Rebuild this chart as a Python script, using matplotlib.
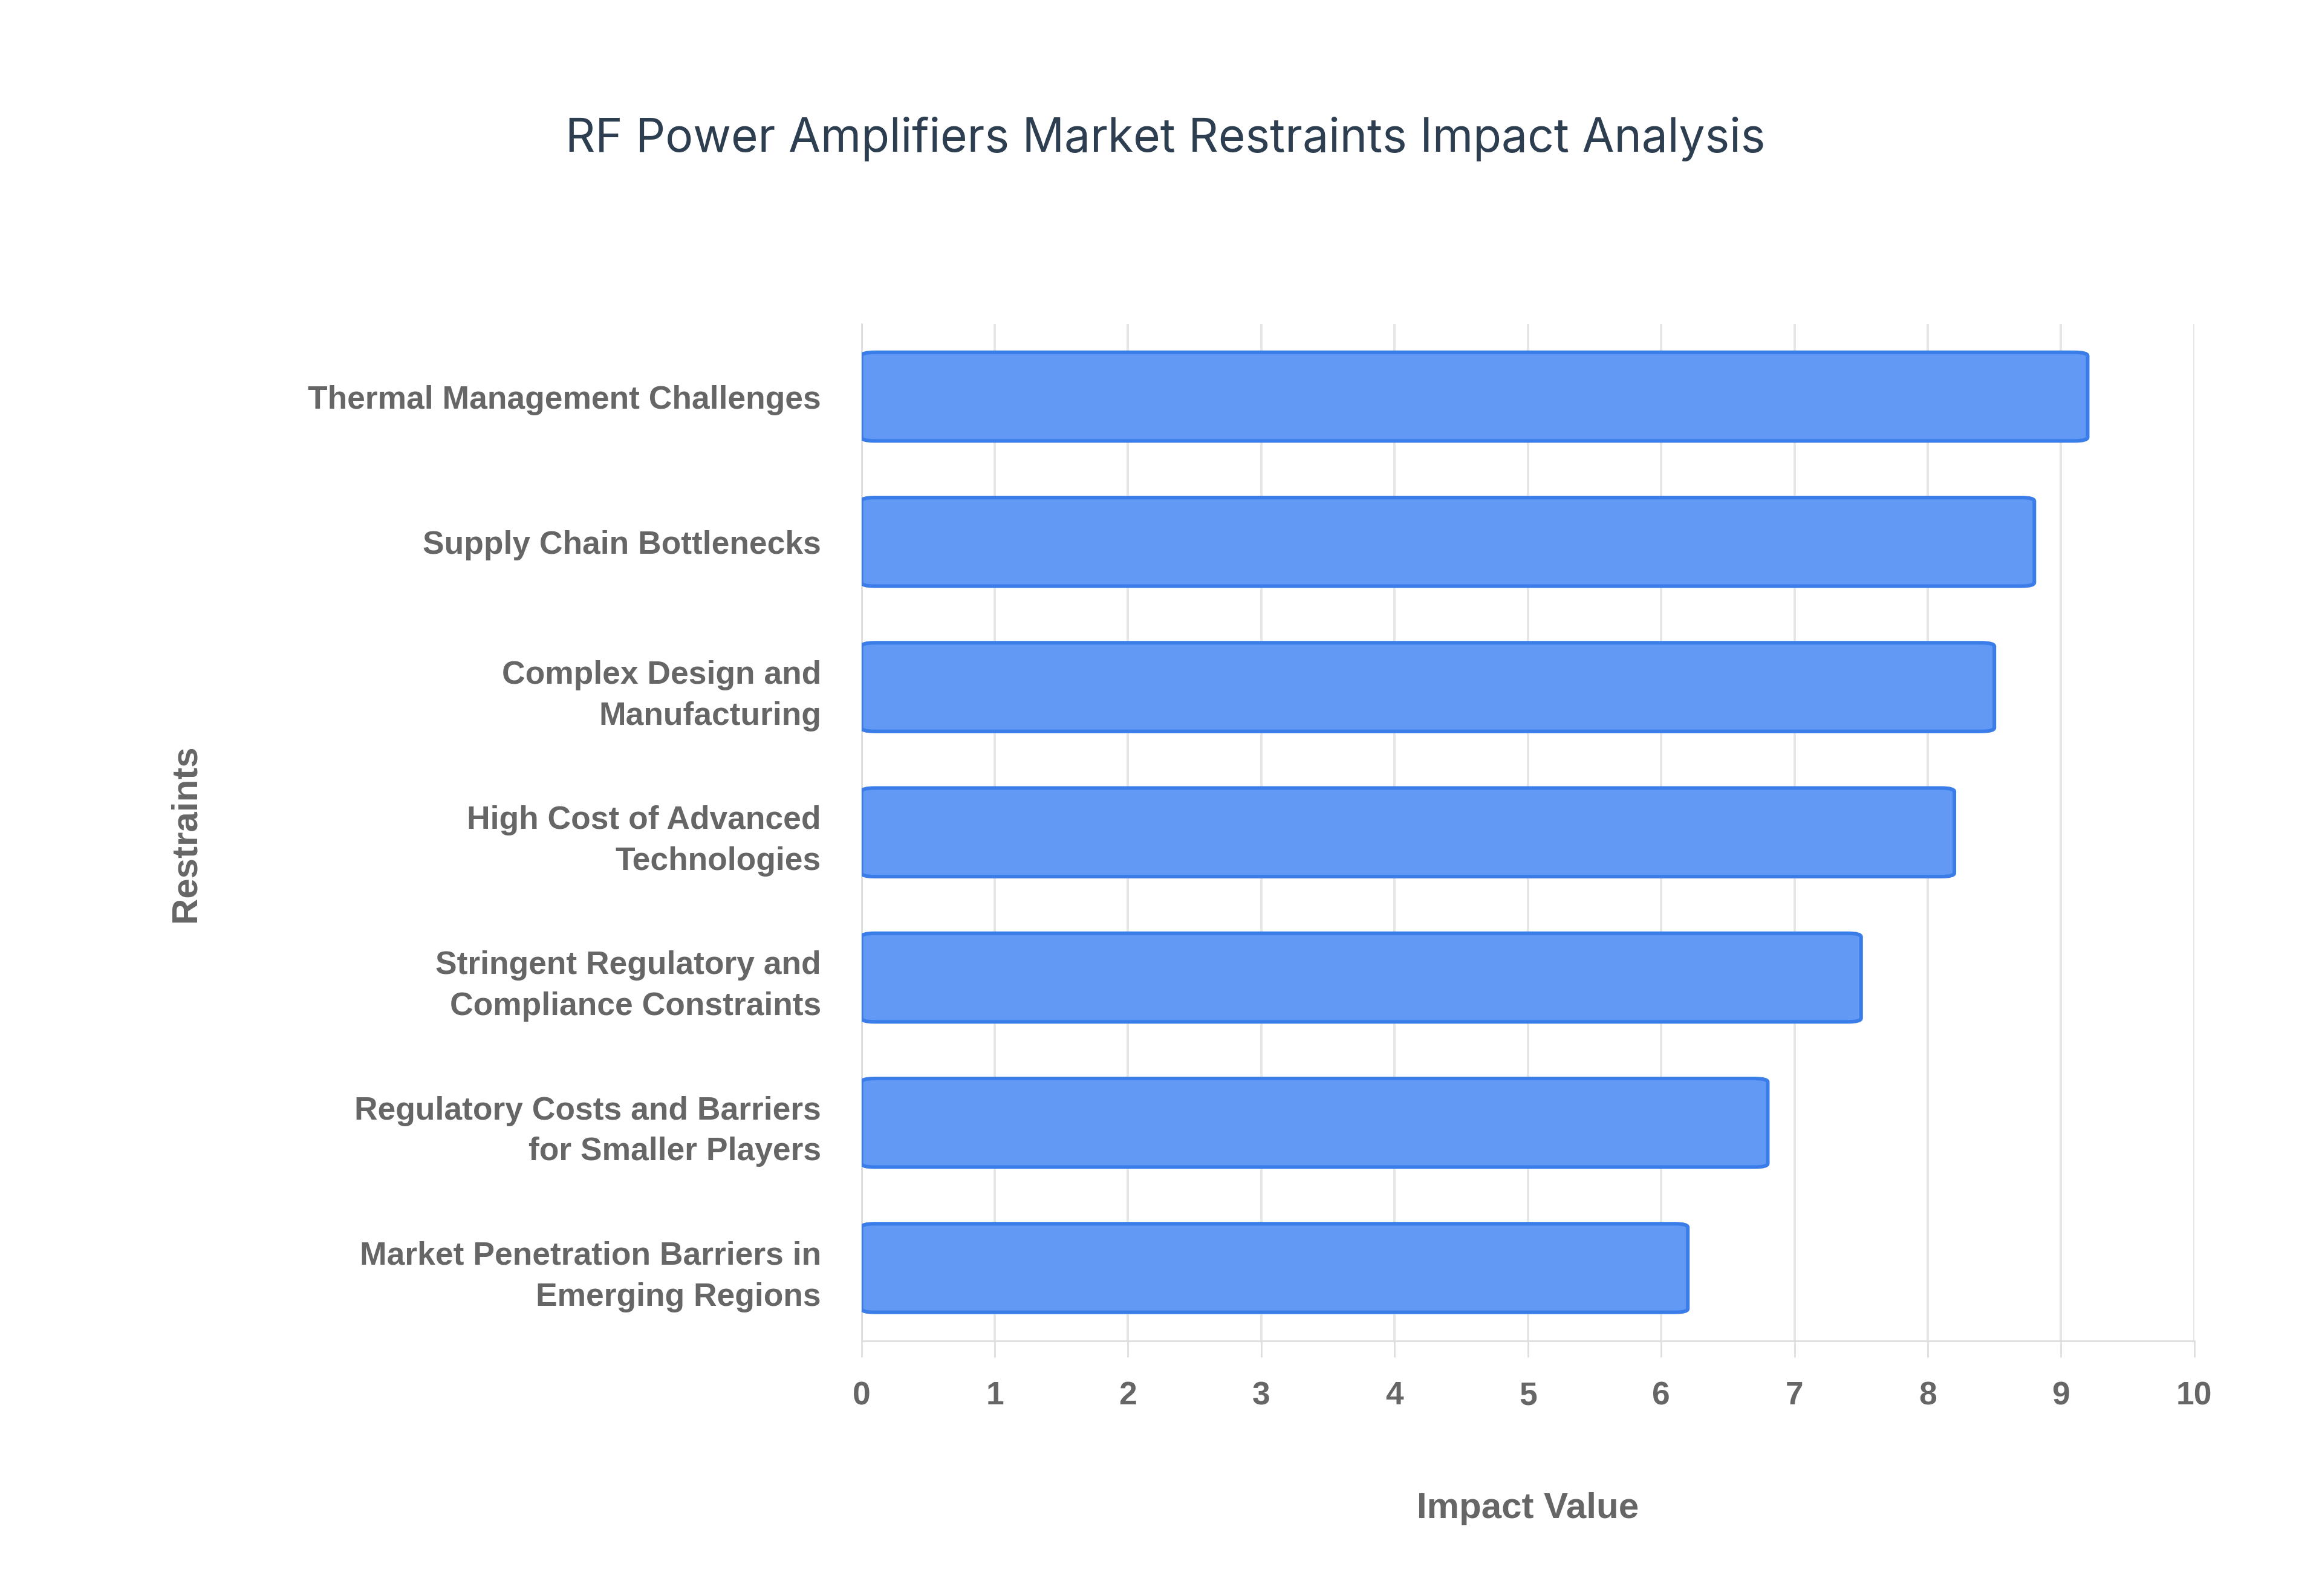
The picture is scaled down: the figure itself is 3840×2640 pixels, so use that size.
import matplotlib
matplotlib.use("Agg")
import matplotlib.pyplot as plt
from matplotlib.patches import FancyBboxPatch

categories = ["Thermal Management Challenges", "Supply Chain Bottlenecks",
              "Complex Design and\nManufacturing", "High Cost of Advanced\nTechnologies",
              "Stringent Regulatory and\nCompliance Constraints",
              "Regulatory Costs and Barriers\nfor Smaller Players",
              "Market Penetration Barriers in\nEmerging Regions"]
values = [9.2, 8.8, 8.5, 8.2, 7.5, 6.8, 6.2]
xticks = list(range(0, 11))

fig = plt.figure(figsize=(16, 11), dpi=240)
ax = fig.add_axes([0.371, 0.160, 0.574, 0.637])
n = len(categories)
ys = list(range(n))
h = 0.61
for y, v in zip(ys, values):
    p = FancyBboxPatch((0, y - h/2), v, h,
                       boxstyle="round,pad=0,rounding_size=0.1",
                       mutation_aspect=0.25,
                       facecolor="#6199F5", edgecolor="#3B7DE8", linewidth=1.8, zorder=3)
    ax.add_patch(p)
ax.set_xlim(0, 10)
ax.set_ylim(n - 0.5, -0.5)
ax.set_yticks(ys)
ax.set_yticklabels(categories, fontsize=16, fontweight="bold", color="#666666",
                   family="Liberation Sans", linespacing=1.45)
ax.set_xticks(xticks)
ax.set_xticklabels([str(t) for t in xticks], fontsize=16, fontweight="bold",
                   color="#666666", family="Liberation Sans")
ax.grid(axis="x", color="#e6e6e6", linewidth=1.2, zorder=0)
for s in ["top", "right"]:
    ax.spines[s].set_visible(False)
ax.spines["left"].set_color("#dddddd")
ax.spines["bottom"].set_color("#dddddd")
ax.tick_params(axis="x", length=8, color="#dddddd", pad=12)
ax.tick_params(axis="y", length=0, pad=20)
ax.set_xlabel("Impact Value", fontsize=18, fontweight="bold", color="#666666",
              family="Liberation Sans", labelpad=40)
fig.text(0.08, 0.478, "Restraints", rotation=90, fontsize=18, fontweight="bold",
         color="#666666", family="Liberation Sans", ha="center", va="center")
fig.text(0.502, 0.913, "RF Power Amplifiers Market Restraints Impact Analysis",
         fontsize=23, color="#2c3e50", family="Inter", ha="center", va="center")
fig.savefig("out.png", dpi=240, facecolor="white")
